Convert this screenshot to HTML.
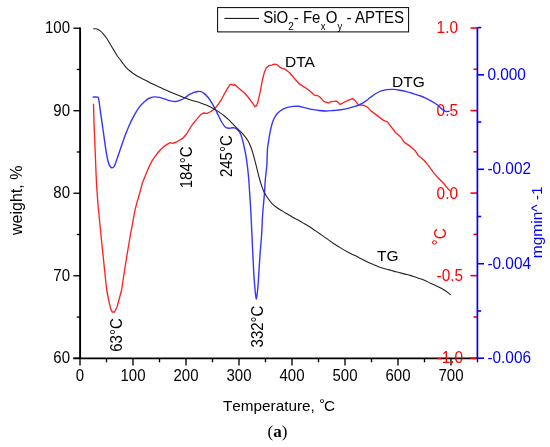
<!DOCTYPE html>
<html><head><meta charset="utf-8"><title>TG-DTA-DTG</title>
<style>html,body{margin:0;padding:0;background:#fff;width:550px;height:447px;overflow:hidden}svg{display:block}</style>
</head><body>
<svg width="550" height="447" viewBox="0 0 550 447">
<rect width="550" height="447" fill="#ffffff"/>
<g stroke="#000" fill="none">
<line x1="80.10" y1="27.60" x2="80.10" y2="359.10" stroke-width="1.9"/>
<line x1="73.4" y1="358.30" x2="80.10" y2="358.30" stroke-width="1.35"/>
<line x1="73.4" y1="275.77" x2="80.10" y2="275.77" stroke-width="1.35"/>
<line x1="73.4" y1="193.25" x2="80.10" y2="193.25" stroke-width="1.35"/>
<line x1="73.4" y1="110.72" x2="80.10" y2="110.72" stroke-width="1.35"/>
<line x1="73.4" y1="28.20" x2="80.10" y2="28.20" stroke-width="1.35"/>
<line x1="76.8" y1="317.04" x2="80.10" y2="317.04" stroke-width="1.35"/>
<line x1="76.8" y1="234.51" x2="80.10" y2="234.51" stroke-width="1.35"/>
<line x1="76.8" y1="151.99" x2="80.10" y2="151.99" stroke-width="1.35"/>
<line x1="76.8" y1="69.46" x2="80.10" y2="69.46" stroke-width="1.35"/>
<line x1="73.4" y1="358.30" x2="477.40" y2="358.30" stroke-width="1.7"/>
<line x1="80.00" y1="358.30" x2="80.00" y2="365.4" stroke-width="1.35"/>
<line x1="133.00" y1="358.30" x2="133.00" y2="365.4" stroke-width="1.35"/>
<line x1="186.00" y1="358.30" x2="186.00" y2="365.4" stroke-width="1.35"/>
<line x1="239.00" y1="358.30" x2="239.00" y2="365.4" stroke-width="1.35"/>
<line x1="292.00" y1="358.30" x2="292.00" y2="365.4" stroke-width="1.35"/>
<line x1="345.00" y1="358.30" x2="345.00" y2="365.4" stroke-width="1.35"/>
<line x1="398.00" y1="358.30" x2="398.00" y2="365.4" stroke-width="1.35"/>
<line x1="451.00" y1="358.30" x2="451.00" y2="365.4" stroke-width="1.35"/>
<line x1="106.50" y1="358.30" x2="106.50" y2="362.3" stroke-width="1.35"/>
<line x1="159.50" y1="358.30" x2="159.50" y2="362.3" stroke-width="1.35"/>
<line x1="212.50" y1="358.30" x2="212.50" y2="362.3" stroke-width="1.35"/>
<line x1="265.50" y1="358.30" x2="265.50" y2="362.3" stroke-width="1.35"/>
<line x1="318.50" y1="358.30" x2="318.50" y2="362.3" stroke-width="1.35"/>
<line x1="371.50" y1="358.30" x2="371.50" y2="362.3" stroke-width="1.35"/>
<line x1="424.50" y1="358.30" x2="424.50" y2="362.3" stroke-width="1.35"/>
<line x1="477.50" y1="358.30" x2="477.50" y2="362.3" stroke-width="1.35"/>
</g>
<text transform="translate(70.00,363.40) scale(1,1.100)" font-family="'Liberation Sans', Arial, sans-serif" font-size="15" fill="#000" text-anchor="end">60</text>
<text transform="translate(70.00,280.88) scale(1,1.100)" font-family="'Liberation Sans', Arial, sans-serif" font-size="15" fill="#000" text-anchor="end">70</text>
<text transform="translate(70.00,198.35) scale(1,1.100)" font-family="'Liberation Sans', Arial, sans-serif" font-size="15" fill="#000" text-anchor="end">80</text>
<text transform="translate(70.00,115.82) scale(1,1.100)" font-family="'Liberation Sans', Arial, sans-serif" font-size="15" fill="#000" text-anchor="end">90</text>
<text transform="translate(70.00,33.30) scale(1,1.100)" font-family="'Liberation Sans', Arial, sans-serif" font-size="15" fill="#000" text-anchor="end">100</text>
<text transform="translate(80.00,381.40) scale(1,1.100)" font-family="'Liberation Sans', Arial, sans-serif" font-size="15" fill="#000" text-anchor="middle">0</text>
<text transform="translate(133.00,381.40) scale(1,1.100)" font-family="'Liberation Sans', Arial, sans-serif" font-size="15" fill="#000" text-anchor="middle">100</text>
<text transform="translate(186.00,381.40) scale(1,1.100)" font-family="'Liberation Sans', Arial, sans-serif" font-size="15" fill="#000" text-anchor="middle">200</text>
<text transform="translate(239.00,381.40) scale(1,1.100)" font-family="'Liberation Sans', Arial, sans-serif" font-size="15" fill="#000" text-anchor="middle">300</text>
<text transform="translate(292.00,381.40) scale(1,1.100)" font-family="'Liberation Sans', Arial, sans-serif" font-size="15" fill="#000" text-anchor="middle">400</text>
<text transform="translate(345.00,381.40) scale(1,1.100)" font-family="'Liberation Sans', Arial, sans-serif" font-size="15" fill="#000" text-anchor="middle">500</text>
<text transform="translate(398.00,381.40) scale(1,1.100)" font-family="'Liberation Sans', Arial, sans-serif" font-size="15" fill="#000" text-anchor="middle">600</text>
<text transform="translate(451.00,381.40) scale(1,1.100)" font-family="'Liberation Sans', Arial, sans-serif" font-size="15" fill="#000" text-anchor="middle">700</text>
<g stroke="#ff0000">
<line x1="470.5" y1="358.20" x2="477" y2="358.20" stroke-width="1.6"/>
<line x1="470.5" y1="275.65" x2="477" y2="275.65" stroke-width="1.6"/>
<line x1="470.5" y1="193.10" x2="477" y2="193.10" stroke-width="1.6"/>
<line x1="470.5" y1="110.55" x2="477" y2="110.55" stroke-width="1.6"/>
<line x1="470.5" y1="28.00" x2="477" y2="28.00" stroke-width="1.6"/>
<line x1="473.5" y1="316.93" x2="477" y2="316.93" stroke-width="1.6"/>
<line x1="473.5" y1="234.38" x2="477" y2="234.38" stroke-width="1.6"/>
<line x1="473.5" y1="151.82" x2="477" y2="151.82" stroke-width="1.6"/>
<line x1="473.5" y1="69.27" x2="477" y2="69.27" stroke-width="1.6"/>
</g>
<g stroke="#0000ff">
<line x1="477.40" y1="27.50" x2="477.40" y2="359.20" stroke-width="1.7"/>
<line x1="477.40" y1="74.83" x2="484" y2="74.83" stroke-width="1.6"/>
<line x1="477.40" y1="169.29" x2="484" y2="169.29" stroke-width="1.6"/>
<line x1="477.40" y1="263.74" x2="484" y2="263.74" stroke-width="1.6"/>
<line x1="477.40" y1="358.20" x2="484" y2="358.20" stroke-width="1.6"/>
<line x1="477.40" y1="27.60" x2="481.2" y2="27.60" stroke-width="1.6"/>
<line x1="477.40" y1="122.06" x2="481.2" y2="122.06" stroke-width="1.6"/>
<line x1="477.40" y1="216.51" x2="481.2" y2="216.51" stroke-width="1.6"/>
<line x1="477.40" y1="310.97" x2="481.2" y2="310.97" stroke-width="1.6"/>
</g>
<text transform="translate(487.40,79.83) scale(1,1.100)" font-family="'Liberation Sans', Arial, sans-serif" font-size="15.4" fill="#0000ff">0.000</text>
<text transform="translate(487.40,174.29) scale(1,1.100)" font-family="'Liberation Sans', Arial, sans-serif" font-size="15.4" fill="#0000ff">-0.002</text>
<text transform="translate(487.40,268.74) scale(1,1.100)" font-family="'Liberation Sans', Arial, sans-serif" font-size="15.4" fill="#0000ff">-0.004</text>
<text transform="translate(487.40,363.20) scale(1,1.100)" font-family="'Liberation Sans', Arial, sans-serif" font-size="15.4" fill="#0000ff">-0.006</text>
<text transform="translate(436.60,33.40) scale(1,1.100)" font-family="'Liberation Sans', Arial, sans-serif" font-size="15.4" fill="#ff0000">1.0</text>
<text transform="translate(436.60,115.95) scale(1,1.100)" font-family="'Liberation Sans', Arial, sans-serif" font-size="15.4" fill="#ff0000">0.5</text>
<text transform="translate(436.60,198.50) scale(1,1.100)" font-family="'Liberation Sans', Arial, sans-serif" font-size="15.4" fill="#ff0000">0.0</text>
<text transform="translate(436.60,281.05) scale(1,1.100)" font-family="'Liberation Sans', Arial, sans-serif" font-size="15.4" fill="#ff0000">-0.5</text>
<text transform="translate(436.60,362.90) scale(1,1.100)" font-family="'Liberation Sans', Arial, sans-serif" font-size="15.4" fill="#ff0000">-1.0</text>
<text transform="translate(21.80,200.30) rotate(-90) scale(1,1.040)" font-family="'Liberation Sans', Arial, sans-serif" font-size="16" fill="#000" text-anchor="middle">weight, %</text>
<text transform="translate(445.60,236.80) rotate(-90) scale(1,1.100)" font-family="'Liberation Sans', Arial, sans-serif" font-size="15.5" fill="#ff0000" text-anchor="middle"><tspan dy="-1.6">°</tspan><tspan dy="1.6">C</tspan></text>
<text transform="translate(541.80,222.30) rotate(-90)" font-family="'Liberation Sans', Arial, sans-serif" font-size="15.5" fill="#0000ff" text-anchor="middle">mgmin^ -1</text>
<text transform="translate(223.00,411.20)" font-family="'Liberation Sans', Arial, sans-serif" font-size="15.3" fill="#000" style="font-kerning:none">Temperature, <tspan dy="-1.8">°</tspan><tspan dy="1.8" dx="-1.2">C</tspan></text>
<text transform="translate(277.40,436.60)" font-family="'Liberation Serif', serif" font-size="17" fill="#000" text-anchor="middle" font-weight="bold"><tspan font-weight="normal">(</tspan>a<tspan font-weight="normal">)</tspan></text>
<text transform="translate(285.00,66.70)" font-family="'Liberation Sans', Arial, sans-serif" font-size="15.5" fill="#000">DTA</text>
<text transform="translate(392.00,86.70)" font-family="'Liberation Sans', Arial, sans-serif" font-size="15.5" fill="#000">DTG</text>
<text transform="translate(377.00,261.00)" font-family="'Liberation Sans', Arial, sans-serif" font-size="15.5" fill="#000">TG</text>
<text transform="translate(121.90,335.00) rotate(-90) scale(1,1.135)" font-family="'Liberation Sans', Arial, sans-serif" font-size="15" fill="#000" text-anchor="middle">63°C</text>
<text transform="translate(191.70,167.30) rotate(-90) scale(1,1.135)" font-family="'Liberation Sans', Arial, sans-serif" font-size="15" fill="#000" text-anchor="middle">184°C</text>
<text transform="translate(232.30,156.20) rotate(-90) scale(1,1.135)" font-family="'Liberation Sans', Arial, sans-serif" font-size="15" fill="#000" text-anchor="middle">245°C</text>
<text transform="translate(262.90,326.50) rotate(-90) scale(1,1.135)" font-family="'Liberation Sans', Arial, sans-serif" font-size="15" fill="#000" text-anchor="middle">332°C</text>
<g fill="none" stroke-linejoin="round" stroke-linecap="round">
<path d="M93.50,104.10 L94.10,125.20 L95.10,149.40 L96.10,175.00 L96.60,185.00 L98.00,205.00 L100.00,225.00 L102.40,249.00 L105.00,274.00 L106.70,290.00 L109.00,301.70 L110.70,308.80 L112.20,312.00 L114.60,312.00 L117.00,307.00 L120.00,296.00 L121.60,290.00 L124.00,274.00 L127.00,255.00 L130.00,237.00 L133.00,221.00 L135.00,210.00 L137.40,201.00 L139.70,193.20 L142.10,183.80 L145.20,176.00 L148.40,168.20 L152.30,160.40 L156.20,154.90 L159.30,151.00 L164.00,146.30 L168.00,143.90 L170.20,142.60 L172.70,143.30 L176.50,142.00 L182.90,138.20 L186.70,133.70 L189.30,129.30 L193.10,123.50 L196.90,119.10 L200.70,114.60 L203.30,113.00 L207.10,113.40 L210.90,111.50 L214.70,108.90 L218.50,103.80 L221.10,100.00 L222.50,97.50 L224.70,93.30 L227.40,88.60 L230.00,84.50 L231.90,84.30 L233.30,85.20 L234.60,84.40 L236.80,86.50 L240.80,89.90 L244.80,93.30 L248.80,98.00 L252.20,102.70 L254.90,106.70 L256.60,105.70 L258.20,100.60 L260.30,91.20 L262.30,80.50 L264.30,72.40 L266.30,67.80 L269.00,65.50 L271.70,65.10 L274.30,64.10 L277.00,64.70 L279.70,67.10 L282.00,68.40 L285.00,69.20 L289.60,72.80 L295.80,80.00 L299.60,84.20 L303.30,86.40 L306.20,88.20 L309.10,90.40 L311.30,92.20 L314.20,95.10 L317.10,95.50 L319.30,96.50 L321.50,98.70 L323.60,101.30 L326.50,102.40 L329.10,103.10 L330.90,101.60 L333.80,101.30 L336.50,101.10 L340.20,104.40 L343.80,102.50 L348.20,100.40 L352.50,98.60 L355.50,101.10 L358.40,104.70 L364.20,105.50 L367.10,106.90 L370.90,110.90 L378.20,116.40 L383.60,120.40 L387.30,121.80 L390.90,126.40 L395.40,132.50 L400.70,137.00 L404.30,142.40 L409.70,145.90 L415.00,150.40 L418.60,155.80 L424.00,160.30 L428.50,165.60 L433.00,171.90 L438.30,178.10 L443.70,183.50 L448.10,188.90 L450.80,191.60" stroke="#ff2222" stroke-width="1.35"/>
<path d="M93.00,97.10 C93.75,97.10 96.55,96.77 97.50,97.10 C98.45,97.43 98.27,97.10 98.70,99.10 C99.13,101.10 99.53,105.08 100.10,109.10 C100.67,113.12 101.43,118.50 102.10,123.20 C102.77,127.90 103.43,132.60 104.10,137.30 C104.77,142.00 105.43,147.37 106.10,151.40 C106.77,155.43 107.42,158.98 108.10,161.50 C108.78,164.02 109.52,165.43 110.20,166.50 C110.88,167.57 111.50,167.98 112.20,167.90 C112.90,167.82 113.50,167.78 114.40,166.00 C115.30,164.22 116.37,160.70 117.60,157.20 C118.83,153.70 120.53,148.65 121.80,145.00 C123.07,141.35 123.95,138.60 125.20,135.30 C126.45,132.00 127.78,128.55 129.30,125.20 C130.82,121.85 132.63,118.22 134.30,115.20 C135.97,112.18 137.62,109.33 139.30,107.10 C140.98,104.87 142.83,103.23 144.40,101.80 C145.97,100.37 147.07,99.32 148.70,98.50 C150.33,97.68 152.38,97.08 154.20,96.90 C156.02,96.72 157.78,97.03 159.60,97.40 C161.42,97.77 163.28,98.52 165.10,99.10 C166.92,99.68 168.68,100.50 170.50,100.90 C172.32,101.30 174.37,101.62 176.00,101.50 C177.63,101.38 178.85,100.78 180.30,100.20 C181.75,99.62 183.23,98.92 184.70,98.00 C186.17,97.08 187.65,95.60 189.10,94.70 C190.55,93.80 191.95,93.13 193.40,92.60 C194.85,92.07 196.53,91.65 197.80,91.50 C199.07,91.35 199.97,91.38 201.00,91.70 C202.03,92.02 202.77,92.38 204.00,93.40 C205.23,94.42 207.10,96.22 208.40,97.80 C209.70,99.38 210.67,101.03 211.80,102.90 C212.93,104.77 214.08,106.85 215.20,109.00 C216.32,111.15 217.38,113.55 218.50,115.80 C219.62,118.05 220.78,120.63 221.90,122.50 C223.02,124.37 224.08,126.03 225.20,127.00 C226.32,127.97 227.47,128.17 228.60,128.30 C229.73,128.43 230.88,127.83 232.00,127.80 C233.12,127.77 234.18,127.58 235.30,128.10 C236.42,128.62 237.77,129.78 238.70,130.90 C239.63,132.02 240.18,132.98 240.90,134.80 C241.62,136.62 242.35,139.27 243.00,141.80 C243.65,144.33 244.23,147.20 244.80,150.00 C245.37,152.80 245.80,154.38 246.40,158.60 C247.00,162.82 247.78,168.40 248.40,175.30 C249.02,182.20 249.67,193.38 250.10,200.00 C250.53,206.62 250.62,207.50 251.00,215.00 C251.38,222.50 251.97,235.83 252.40,245.00 C252.83,254.17 253.27,263.83 253.60,270.00 C253.93,276.17 254.12,278.33 254.40,282.00 C254.68,285.67 254.98,289.12 255.30,292.00 C255.62,294.88 255.95,299.30 256.30,299.30 C256.65,299.30 257.07,294.88 257.40,292.00 C257.73,289.12 258.03,285.67 258.30,282.00 C258.57,278.33 258.72,274.50 259.00,270.00 C259.28,265.50 259.57,260.83 260.00,255.00 C260.43,249.17 261.17,241.67 261.60,235.00 C262.03,228.33 262.13,221.83 262.60,215.00 C263.07,208.17 263.95,199.83 264.40,194.00 C264.85,188.17 264.88,184.88 265.30,180.00 C265.72,175.12 266.55,169.75 266.90,164.70 C267.25,159.65 267.10,153.77 267.40,149.70 C267.70,145.63 268.25,143.22 268.70,140.30 C269.15,137.38 269.65,134.55 270.10,132.20 C270.55,129.85 270.85,128.22 271.40,126.20 C271.95,124.18 272.73,121.78 273.40,120.10 C274.07,118.42 274.62,117.32 275.40,116.10 C276.18,114.88 276.97,113.87 278.10,112.80 C279.23,111.73 280.63,110.60 282.20,109.70 C283.77,108.80 285.72,107.95 287.50,107.40 C289.28,106.85 291.15,106.58 292.90,106.40 C294.65,106.22 296.07,106.10 298.00,106.30 C299.93,106.50 302.20,107.08 304.50,107.60 C306.80,108.12 309.37,108.92 311.80,109.40 C314.23,109.88 316.67,110.23 319.10,110.50 C321.53,110.77 323.98,111.00 326.40,111.00 C328.82,111.00 331.18,110.70 333.60,110.50 C336.02,110.30 338.47,110.15 340.90,109.80 C343.33,109.45 345.77,109.00 348.20,108.40 C350.63,107.80 353.53,106.85 355.50,106.20 C357.47,105.55 358.42,105.27 360.00,104.50 C361.58,103.73 363.25,102.80 365.00,101.60 C366.75,100.40 368.68,98.65 370.50,97.30 C372.32,95.95 374.08,94.57 375.90,93.50 C377.72,92.43 379.58,91.55 381.40,90.90 C383.22,90.25 384.80,89.85 386.80,89.60 C388.80,89.35 391.22,89.30 393.40,89.40 C395.58,89.50 397.73,89.83 399.90,90.20 C402.07,90.57 404.22,91.05 406.40,91.60 C408.58,92.15 410.82,92.83 413.00,93.50 C415.18,94.17 417.50,94.88 419.50,95.60 C421.50,96.32 422.80,96.77 425.00,97.80 C427.20,98.83 430.50,100.52 432.70,101.80 C434.90,103.08 436.68,104.28 438.20,105.50 C439.72,106.72 440.58,108.13 441.80,109.10 C443.02,110.07 444.28,110.93 445.50,111.30 C446.72,111.67 448.50,111.30 449.10,111.30" stroke="#3535ff" stroke-width="1.4"/>
<path d="M93.60,28.80 C94.17,28.82 95.88,28.55 97.00,28.90 C98.12,29.25 99.20,30.00 100.30,30.90 C101.40,31.80 102.48,32.98 103.60,34.30 C104.72,35.62 105.88,37.13 107.00,38.80 C108.12,40.47 109.18,42.45 110.30,44.30 C111.42,46.15 112.58,48.03 113.70,49.90 C114.82,51.77 115.88,53.82 117.00,55.50 C118.12,57.18 119.27,58.50 120.40,60.00 C121.53,61.50 122.78,63.20 123.80,64.50 C124.82,65.80 125.47,66.72 126.50,67.80 C127.53,68.88 128.75,69.97 130.00,71.00 C131.25,72.03 132.33,72.90 134.00,74.00 C135.67,75.10 138.00,76.53 140.00,77.60 C142.00,78.67 144.17,79.45 146.00,80.40 C147.83,81.35 148.37,82.00 151.00,83.30 C153.63,84.60 158.18,86.57 161.80,88.20 C165.42,89.83 169.07,91.57 172.70,93.10 C176.33,94.63 180.72,96.28 183.60,97.40 C186.48,98.52 188.10,99.17 190.00,99.80 C191.90,100.43 193.23,100.68 195.00,101.20 C196.77,101.72 198.73,102.25 200.60,102.90 C202.47,103.55 204.33,104.30 206.20,105.10 C208.07,105.90 210.30,106.95 211.80,107.70 C213.30,108.45 213.90,108.82 215.20,109.60 C216.50,110.38 218.12,111.37 219.60,112.40 C221.08,113.43 222.60,114.58 224.10,115.80 C225.60,117.02 227.10,118.30 228.60,119.70 C230.10,121.10 231.53,122.62 233.10,124.20 C234.67,125.78 236.35,127.53 238.00,129.20 C239.65,130.87 241.32,132.23 243.00,134.20 C244.68,136.17 246.70,138.62 248.10,141.00 C249.50,143.38 250.43,145.85 251.40,148.50 C252.37,151.15 253.05,153.83 253.90,156.90 C254.75,159.97 255.65,163.55 256.50,166.90 C257.35,170.25 258.17,173.92 259.00,177.00 C259.83,180.08 260.67,182.88 261.50,185.40 C262.33,187.92 262.98,190.03 264.00,192.10 C265.02,194.17 266.30,195.93 267.60,197.80 C268.90,199.67 270.17,201.60 271.80,203.30 C273.43,205.00 275.53,206.65 277.40,208.00 C279.27,209.35 281.13,210.28 283.00,211.40 C284.87,212.52 286.75,213.58 288.60,214.70 C290.45,215.82 292.25,217.07 294.10,218.10 C295.95,219.13 297.97,219.95 299.70,220.90 C301.43,221.85 302.48,222.58 304.50,223.80 C306.52,225.02 309.37,226.62 311.80,228.20 C314.23,229.78 316.67,231.60 319.10,233.30 C321.53,235.00 323.98,236.70 326.40,238.40 C328.82,240.10 331.18,241.88 333.60,243.50 C336.02,245.12 338.47,246.63 340.90,248.10 C343.33,249.57 345.82,251.05 348.20,252.30 C350.58,253.55 353.32,254.67 355.20,255.60 C357.08,256.53 358.02,257.12 359.50,257.90 C360.98,258.68 362.58,259.53 364.10,260.30 C365.62,261.07 367.08,261.80 368.60,262.50 C370.12,263.20 371.68,263.85 373.20,264.50 C374.72,265.15 376.18,265.82 377.70,266.40 C379.22,266.98 380.78,267.52 382.30,268.00 C383.82,268.48 385.28,268.88 386.80,269.30 C388.32,269.72 389.88,270.08 391.40,270.50 C392.92,270.92 394.42,271.40 395.90,271.80 C397.38,272.20 398.78,272.52 400.30,272.90 C401.82,273.28 403.35,273.68 405.00,274.10 C406.65,274.52 408.48,274.90 410.20,275.40 C411.92,275.90 413.60,276.53 415.30,277.10 C417.00,277.67 418.70,278.18 420.40,278.80 C422.10,279.42 423.82,280.07 425.50,280.80 C427.18,281.53 428.82,282.43 430.50,283.20 C432.18,283.97 433.90,284.60 435.60,285.40 C437.30,286.20 439.00,287.07 440.70,288.00 C442.40,288.93 444.18,289.90 445.80,291.00 C447.42,292.10 449.63,294.00 450.40,294.60" stroke="#222222" stroke-width="1.1"/>
</g>
<rect x="217.6" y="7.6" width="191" height="24.3" fill="#fff" stroke="#000" stroke-width="1"/>
<line x1="224.4" y1="18.4" x2="259" y2="18.4" stroke="#000" stroke-width="1"/>
<text transform="translate(263.20,23.40) scale(1,1.080)" font-family="'Liberation Sans', Arial, sans-serif" font-size="15" fill="#000">SiO<tspan font-size="10" dy="6.0">2</tspan><tspan dy="-6.0" dx="0.0">- Fe</tspan><tspan font-size="9.5" dy="5.8" dx="0.2">x</tspan><tspan dy="-5.8" dx="0.3">O</tspan><tspan font-size="9.5" dy="5.8" dx="0.2">y</tspan><tspan dy="-5.8" dx="0.1"> - APTES</tspan></text>
</svg>
</body></html>
